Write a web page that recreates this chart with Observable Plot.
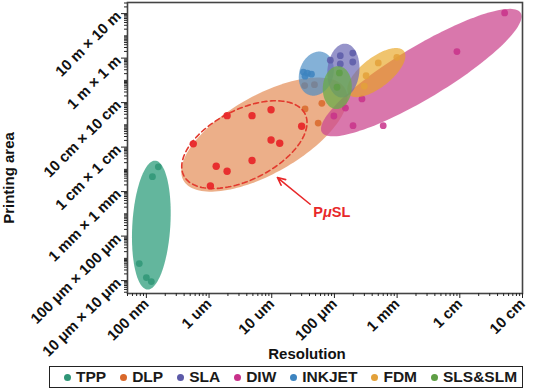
<!DOCTYPE html>
<html><head><meta charset="utf-8">
<script src="https://cdn.jsdelivr.net/npm/d3@7"></script>
<script src="https://cdn.jsdelivr.net/npm/@observablehq/plot@0.6"></script>
<style>
body{margin:0;background:#fff;font-family:"Liberation Sans",Arial,sans-serif;}
#chart{width:533px;height:390px;position:relative;overflow:hidden;}
#legend{position:absolute;left:49px;top:366px;width:474px;height:22px;border:1.6px solid #222;display:flex;align-items:center;padding-left:14px;gap:14px;box-sizing:border-box;font-weight:bold;font-size:15.5px;color:#1a1a1a;}
#legend .it{display:flex;align-items:center;white-space:nowrap;}
#legend .dot{width:7px;height:7px;border-radius:50%;margin-right:5px;display:inline-block;}
</style></head><body><div id="chart"></div>
<script>
// ---- categories & colours ----
const categories = ["TPP","DLP","SLA","DIW","INKJET","FDM","SLS&SLM"];
const dotColors  = ["#2f9677","#d9682a","#5c5aa8","#c8318a","#3d84c0","#e3a13a","#5e9e45"];
const fillColors = ["#2f9e7c","#df7a3a","#6d6bb5","#cc4a90","#4a8cc4","#e8a520","#6aab4a"];
const fillOpacity = [0.75,0.6,0.72,0.75,0.68,0.65,0.75];
const drawOrder = ["TPP","DLP","DIW","FDM","INKJET","SLA","SLS&SLM"];

// ---- data points: resolution (m) and printing area (m^2) ----
const tppRes   = [1.25e-7,1.55e-7,7.7e-8,1.0e-7,1.2e-7];
const tppArea  = [4.7e-6,1.3e-5,5.8e-10,1.36e-10,9.0e-11];
const dlpRes   = [3.4e-5,6.3e-5,5.5e-5,3.35e-5,4.8e-5];
const dlpArea  = [5.2e-3,9.3e-3,1.2e-3,0.058,0.064];
const puslRes  = [1.94e-6,4.85e-6,9.75e-6,3.0e-5,5.6e-7,9.75e-6,1.34e-5,4.85e-6,1.3e-6,1.94e-6,1.05e-6];
const puslArea = [2.6e-3,2.6e-3,4.8e-3,8.6e-4,1.4e-4,2.1e-4,1.5e-4,2.5e-5,1.37e-5,8.2e-6,1.8e-6];
const slaRes   = [1.24e-4,1.96e-4,1.24e-4,1.96e-4,8.6e-5];
const slaArea  = [1.29,1.68,0.55,0.67,0.81];
const diwRes   = [0.0519,9.0e-3,2.75e-4,1.5e-4,9.8e-5,1.98e-4,6.0e-4];
const diwArea  = [107,1.96,0.0147,5.7e-3,2.5e-3,9.2e-4,9.2e-4];
const inkRes   = [3.2e-5,3.7e-5,4.3e-5,3.4e-5];
const inkArea  = [0.235,0.21,0.19,0.155];
const fdmRes   = [5.0e-4,9.9e-4,3.2e-4,3.0e-4];
const fdmArea  = [0.61,1.09,0.163,0.055];
const slsRes   = [1.2e-4,1.1e-4];
const slsArea  = [0.216,0.049];

// ---- ellipse regions: centre (m, m^2), semi-axes (in decades of resolution), tilt (deg) ----
const ellNames = ["TPP","DLP","SLA","DIW","INKJET","FDM","SLS&SLM","PμSL"];
const ellCx    = [1.2e-7,7.62e-6,1.39e-4,2.43e-3,5.14e-5,4.66e-4,1.11e-4,3.66e-6];
const ellCy    = [3.12e-8,3.65e-4,0.274,0.223,0.201,0.223,0.0472,1.29e-4];
const ellA     = [1.03,1.483,0.431,1.85,0.36,0.558,0.343,1.085];
const ellB     = [0.303,0.622,0.255,0.415,0.27,0.239,0.231,0.558];
const ellDeg   = [86.5,29.6,85,31,72,38,86,27];

// ---- annotation ----
const annoLabel = "PμSL";
const annoText  = {x:4.6e-5, y:1.14e-7};
const annoArrow = {x1:4.1e-5, y1:2.7e-7, x2:1.23e-5, y2:4.3e-6};

// ---- axes ----
const xTicks  = [1e-7,1e-6,1e-5,1e-4,1e-3,1e-2,1e-1];
const xLabels = ["100 nm","1 um","10 um","100 μm","1 mm","1 cm","10 cm"];
const yTicks  = [1e-10,1e-8,1e-6,1e-4,1e-2,1,100];
const yLabels = ["10 μm × 10 μm","100 μm × 100 μm","1 mm × 1 mm","1 cm × 1 cm","10 cm × 10 cm","1 m × 1 m","10 m × 10 m"];
const xDomain = [5e-8, 0.1];
const yDomain = [2.63e-11, 316];

const W = 533, H = 365, ML = 127, MR = 11, MT = 2, MB = 72;

const seriesRes  = {"TPP":tppRes,"DLP":dlpRes,"SLA":slaRes,"DIW":diwRes,"INKJET":inkRes,"FDM":fdmRes,"SLS&SLM":slsRes};
const seriesArea = {"TPP":tppArea,"DLP":dlpArea,"SLA":slaArea,"DIW":diwArea,"INKJET":inkArea,"FDM":fdmArea,"SLS&SLM":slsArea};

const kAspect = ((W-ML-MR)/Math.log10(xDomain[1]/xDomain[0])) / ((H-MT-MB)/Math.log10(yDomain[1]/yDomain[0]));
function ellipsePts(name){
  const i = ellNames.indexOf(name), th = ellDeg[i]*Math.PI/180, pts=[];
  for(let j=0;j<144;j++){
    const t=j/144*2*Math.PI, u=ellA[i]*Math.cos(t), v=ellB[i]*Math.sin(t);
    const du=u*Math.cos(th)-v*Math.sin(th), dv=u*Math.sin(th)+v*Math.cos(th);
    pts.push({x:ellCx[i]*Math.pow(10,du), y:ellCy[i]*Math.pow(10,dv*kAspect)});
  }
  return pts;
}
const pointsOf = (res, area) => res.map((r,i)=>({x:r, y:area[i]}));

function minorTicks(lo, hi){
  const out=[];
  for(let e=Math.floor(Math.log10(lo)); e<=Math.ceil(Math.log10(hi)); e++){
    for(let m=1;m<=9;m++){ const v=m*Math.pow(10,e); if(v>=lo*0.999 && v<=hi*1.001) out.push(v); }
  }
  return out;
}
const xMinor = minorTicks(xDomain[0], xDomain[1]).filter(v=>!xTicks.some(t=>Math.abs(v/t-1)<1e-6));
const yMinor = minorTicks(yDomain[0], yDomain[1]).filter(v=>!yTicks.some(t=>Math.abs(v/t-1)<1e-6));
const xLab = new Map(xTicks.map((v,i)=>[v,xLabels[i]]));
const yLab = new Map(yTicks.map((v,i)=>[v,yLabels[i]]));

const marks = [];
for(const name of drawOrder){
  const ci = categories.indexOf(name);
  marks.push(Plot.line(ellipsePts(name), {x:"x", y:"y", fill:fillColors[ci], fillOpacity:fillOpacity[ci], stroke:"none", curve:"linear-closed"}));
  marks.push(Plot.dot(pointsOf(seriesRes[name], seriesArea[name]), {x:"x", y:"y", r:3.4, fill:dotColors[ci], fillOpacity:0.85}));
  if(name==="DLP"){
    marks.push(Plot.line(ellipsePts("PμSL"), {x:"x", y:"y", stroke:"#e23a2e", strokeWidth:1.6, strokeDasharray:"5,3.5", fill:"none", curve:"linear-closed"}));
    marks.push(Plot.dot(pointsOf(puslRes, puslArea), {x:"x", y:"y", r:3.7, fill:"#e8282a", fillOpacity:0.95}));
  }
}
marks.push(Plot.arrow([annoArrow], {x1:"x1", y1:"y1", x2:"x2", y2:"y2", stroke:"#e8282a", strokeWidth:1.6, headLength:8, headAngle:50}));
marks.push(Plot.text([annoText], {x:"x", y:"y", text:()=>annoLabel, textAnchor:"start", fill:"#e8282a", fontSize:14.5, fontWeight:"bold"}));
marks.push(Plot.frame({stroke:"#444", strokeWidth:1.6}));
marks.push(Plot.axisX(xMinor, {tickSize:3, tickFormat:()=>"", label:null, stroke:"#222"}));
marks.push(Plot.axisX(xTicks, {tickSize:5, tickFormat:d=>xLab.get(d), tickRotate:-45, tickPadding:3, fontSize:15, fontWeight:"bold", label:null, stroke:"#222", fill:"#111"}));
marks.push(Plot.axisY(yMinor, {tickSize:3, tickFormat:()=>"", label:null, stroke:"#222"}));
marks.push(Plot.axisY(yTicks, {tickSize:6, tickFormat:d=>yLab.get(d), tickRotate:-45, tickPadding:3, fontSize:15, fontWeight:"bold", label:null, stroke:"#222", fill:"#111"}));
marks.push(Plot.text(["Printing area"], {text:d=>d, frameAnchor:"left", textAnchor:"middle", dx:-118, dy:30, rotate:-90, fontSize:15, fontWeight:"bold", fill:"#111"}));
marks.push(Plot.text(["Resolution"], {text:d=>d, frameAnchor:"bottom", dx:-18, dy:65, fontSize:15, fontWeight:"bold", fill:"#111"}));

const svg = Plot.plot({
  width:W, height:H, marginLeft:ML, marginRight:MR, marginTop:MT, marginBottom:MB,
  style:{fontFamily:"'Liberation Sans', Arial, sans-serif", background:"#fff", color:"#111"},
  x:{type:"log", domain:xDomain},
  y:{type:"log", domain:yDomain},
  marks
});
// italic μ in annotation
svg.querySelectorAll("text").forEach(t=>{
  if(t.textContent===annoLabel){
    t.textContent="";
    const ns="http://www.w3.org/2000/svg";
    const a=document.createElementNS(ns,"tspan"); a.textContent="P";
    const b=document.createElementNS(ns,"tspan"); b.textContent="μ"; b.setAttribute("font-style","italic");
    const c=document.createElementNS(ns,"tspan"); c.textContent="SL";
    t.append(a,b,c);
  }
});
const chart=document.getElementById("chart");
chart.appendChild(svg);

const legend=document.createElement("div"); legend.id="legend";
categories.forEach((c,i)=>{
  const it=document.createElement("span"); it.className="it";
  const d=document.createElement("span"); d.className="dot"; d.style.background=dotColors[i];
  it.appendChild(d); it.appendChild(document.createTextNode(c));
  legend.appendChild(it);
});
chart.appendChild(legend);
</script></body></html>
